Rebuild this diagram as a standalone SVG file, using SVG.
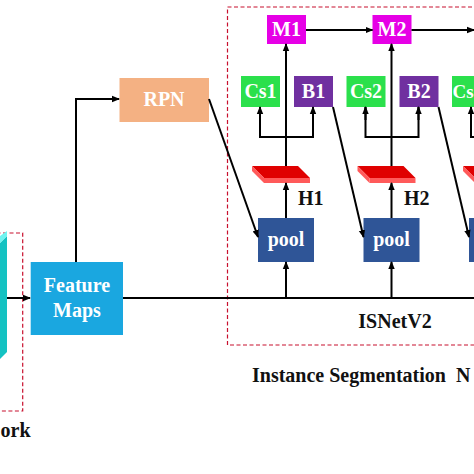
<svg xmlns="http://www.w3.org/2000/svg" width="474" height="474" viewBox="0 0 474 474">
<style>
.lbl{font-family:"Liberation Serif","Times New Roman",serif;font-weight:bold;font-size:20px;fill:#fff;text-anchor:middle}
.blk{font-family:"Liberation Serif","Times New Roman",serif;font-weight:bold;font-size:20px;fill:#111}
.ln{stroke:#000;stroke-width:2;fill:none}
.dash{stroke:#C8102E;stroke-width:1.2;fill:none;stroke-dasharray:4,2.5}
.m{fill:#E600E6}.cs{fill:#2BE04C}.b{fill:#7030A0}.pool{fill:#2F5597}
.st{fill:#E00000}.ss{fill:#FF5A5A}
</style>
<defs>
<marker id="ah" markerUnits="userSpaceOnUse" markerWidth="8" markerHeight="8" viewBox="0 0 8 8" refX="7" refY="4" orient="auto">
<path d="M0,0.8 L8,4 L0,7.2 Z" fill="#000"/>
</marker>
</defs>
<rect width="474" height="474" fill="#fff"/>
<g id="frames">
<rect class="dash" x="-10" y="233" width="32.7" height="178"/>
<rect class="dash" x="227.5" y="7" width="260" height="338"/>
</g>
<g id="backbone">
<polygon points="0,243 7,236 7,352 0,359" fill="#14C2C2"/>
<polygon points="0,236 7,231 7,236 0,243" fill="#70F4F0"/>
<text class="blk" x="0.5" y="437">ork</text>
</g>
<g id="feature-maps">
<rect x="30.7" y="262" width="92.3" height="73" fill="#1AA7E0"/>
<text class="lbl" x="77" y="292">Feature</text>
<text class="lbl" x="77" y="317">Maps</text>
</g>
<g id="rpn">
<rect x="119.5" y="78" width="89.5" height="44" fill="#F4B183"/>
<text class="lbl" x="164" y="106">RPN</text>
</g>
<g id="col1">
<rect class="m" x="267" y="15" width="39" height="29"/><text class="lbl" x="286.5" y="36">M1</text>
<rect class="cs" x="241" y="76" width="39" height="31"/><text class="lbl" x="260.5" y="98">Cs1</text>
<rect class="b" x="294" y="76" width="39" height="31"/><text class="lbl" x="313.5" y="98">B1</text>
<polygon class="st" points="252,166 298,166 310,178 264,178"/>
<polygon class="ss" points="252,166 264,178 264,183 252,171"/>
<polygon class="ss" points="264,178 310,178 310,183 264,183"/>
<text class="blk" x="298" y="205">H1</text>
<rect class="pool" x="258" y="218" width="56" height="44"/><text class="lbl" x="286" y="246">pool</text>
</g>
<g id="col2">
<rect class="m" x="372.5" y="15" width="39" height="29"/><text class="lbl" x="392" y="36">M2</text>
<rect class="cs" x="346.5" y="76" width="39" height="31"/><text class="lbl" x="366" y="98">Cs2</text>
<rect class="b" x="399.5" y="76" width="39" height="31"/><text class="lbl" x="419" y="98">B2</text>
<polygon class="st" points="357.5,166 403.5,166 415.5,178 369.5,178"/>
<polygon class="ss" points="357.5,166 369.5,178 369.5,183 357.5,171"/>
<polygon class="ss" points="369.5,178 415.5,178 415.5,183 369.5,183"/>
<text class="blk" x="404" y="205">H2</text>
<rect class="pool" x="363.5" y="218" width="56" height="44"/><text class="lbl" x="391.5" y="246">pool</text>
</g>
<g id="col3">
<rect class="m" x="478" y="15" width="39" height="29"/>
<rect class="cs" x="452" y="76" width="39" height="31"/><text class="lbl" x="452.5" y="98" style="text-anchor:start;font-size:19px">Cs</text>
<polygon class="st" points="463,166 509,166 521,178 475,178"/>
<polygon class="ss" points="463,166 475,178 475,183 463,171"/>
<polygon class="ss" points="475,178 521,178 521,183 475,183"/>
<rect class="pool" x="469" y="218" width="56" height="44"/>
</g>
<g id="labels">
<text class="blk" x="395" y="328" text-anchor="middle">ISNetV2</text>
<text class="blk" x="252" y="382" xml:space="preserve">Instance Segmentation  N</text>
</g>
<g id="connectors">
<line class="ln" x1="7" y1="298" x2="30" y2="298" marker-end="url(#ah)"/>
<line class="ln" x1="123" y1="298" x2="480" y2="298"/>
<polyline class="ln" points="76,262 76,99 119,99" marker-end="url(#ah)"/>
<line class="ln" x1="209" y1="99" x2="258" y2="237" marker-end="url(#ah)"/>
<line class="ln" x1="333" y1="107" x2="363.5" y2="237" marker-end="url(#ah)"/>
<line class="ln" x1="438.5" y1="107" x2="469" y2="237" marker-end="url(#ah)"/>
<line class="ln" x1="286" y1="298" x2="286" y2="262" marker-end="url(#ah)"/>
<line class="ln" x1="391.5" y1="298" x2="391.5" y2="262" marker-end="url(#ah)"/>
<line class="ln" x1="286" y1="218" x2="286" y2="183" marker-end="url(#ah)"/>
<line class="ln" x1="391.5" y1="218" x2="391.5" y2="183" marker-end="url(#ah)"/>
<line class="ln" x1="286" y1="166" x2="286" y2="44" marker-end="url(#ah)"/>
<line class="ln" x1="391.5" y1="166" x2="391.5" y2="44" marker-end="url(#ah)"/>
<polyline class="ln" points="260,107 260,137 313,137 313,107"/>
<line class="ln" x1="260" y1="120" x2="260" y2="107" marker-end="url(#ah)"/>
<line class="ln" x1="313" y1="120" x2="313" y2="107" marker-end="url(#ah)"/>
<polyline class="ln" points="365.5,107 365.5,137 418.5,137 418.5,107"/>
<line class="ln" x1="365.5" y1="120" x2="365.5" y2="107" marker-end="url(#ah)"/>
<line class="ln" x1="418.5" y1="120" x2="418.5" y2="107" marker-end="url(#ah)"/>
<polyline class="ln" points="480,137 471,137 471,107"/>
<line class="ln" x1="471" y1="120" x2="471" y2="107" marker-end="url(#ah)"/>
<line class="ln" x1="306" y1="30" x2="372.5" y2="30" marker-end="url(#ah)"/>
<line class="ln" x1="411.5" y1="30" x2="474" y2="30" marker-end="url(#ah)"/>
</g>
</svg>
